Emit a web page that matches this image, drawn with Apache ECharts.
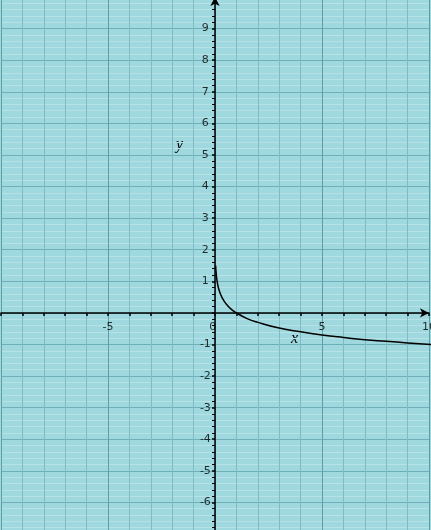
<!DOCTYPE html>
<html>
<head>
<meta charset="utf-8">
<script src="https://cdn.jsdelivr.net/npm/echarts@6/dist/echarts.min.js"></script>
</head>
<body style="margin:0">
<div id="main" style="width:431px;height:530px;"></div>
<script>
// curve points
var xs = [0.03, 0.05, 0.1, 0.2, 0.35, 0.5, 0.75, 1, 1.5, 2, 3, 4, 5, 6, 7, 8, 9, 10.1];
var ys = [1.5, 1.3, 1.0, 0.7, 0.46, 0.3, 0.12, 0, -0.18, -0.3, -0.48, -0.6, -0.7, -0.78, -0.85, -0.9, -0.95, -1.0];
var xLabels = [-5, 5, 10];
var yLabels = [-6, -5, -4, -3, -2, -1, 1, 2, 3, 4, 5, 6, 7, 8, 9];

var pts = xs.map(function (x, i) { return [x, ys[i]]; });
// tick labels placed next to the axes that cross at zero
var labelPts = xLabels.map(function (v) { return {value: [v, -0.45], name: String(v)}; })
    .concat(yLabels.map(function (v) { return {value: [-0.45, v], name: String(v)}; }))
    .concat([{value: [-0.1, -0.45], name: '0'}]);

var chart = echarts.init(document.getElementById('main'));
chart.setOption({
    backgroundColor: '#9fd9df',
    animation: false,
    grid: {left: 1, right: 2, top: -3, bottom: -4, outerBoundsMode: 'none', containLabel: false},
    xAxis: {
        type: 'value', min: -10, max: 10, interval: 1,
        axisLine: {onZero: true, symbol: ['none', 'arrow'], symbolSize: [7, 9], lineStyle: {color: '#000', width: 1.5}},
        axisTick: {show: true, length: 3, lineStyle: {color: '#000', width: 1.5}},
        axisLabel: {show: false},
        splitLine: {show: true, lineStyle: {color: ['#5f9ea4', '#7fbcc2', '#7fbcc2', '#7fbcc2', '#7fbcc2'], width: 1}}
    },
    yAxis: {
        type: 'value', min: -7, max: 10, interval: 1,
        axisLine: {onZero: true, symbol: ['none', 'arrow'], symbolSize: [7, 9], lineStyle: {color: '#000', width: 1.5}},
        axisTick: {show: true, length: 3, lineStyle: {color: '#000', width: 1.5}},
        minorTick: {show: true, splitNumber: 5, length: 3, lineStyle: {color: '#000'}},
        axisLabel: {show: false},
        splitLine: {show: true, lineStyle: {color: '#6fafb5', width: 1}},
        minorSplitLine: {show: true, lineStyle: {color: '#b7e3e7', width: 1}}
    },
    graphic: [
        {type: 'text', left: 176, top: 137, style: {text: 'y', font: 'italic 16px "Liberation Serif"', fill: '#000'}},
        {type: 'text', left: 291, top: 331, style: {text: 'x', font: 'italic 16px "Liberation Serif"', fill: '#000'}}
    ],
    series: [{
        type: 'line', data: pts, smooth: true, showSymbol: false,
        lineStyle: {color: '#000', width: 1.5}
    }, {
        type: 'scatter', data: labelPts, symbolSize: 0, silent: true,
        label: {show: true, position: 'inside', formatter: '{b}', color: '#000', fontSize: 11, fontFamily: 'DejaVu Sans'}
    }]
});
</script>
</body>
</html>
